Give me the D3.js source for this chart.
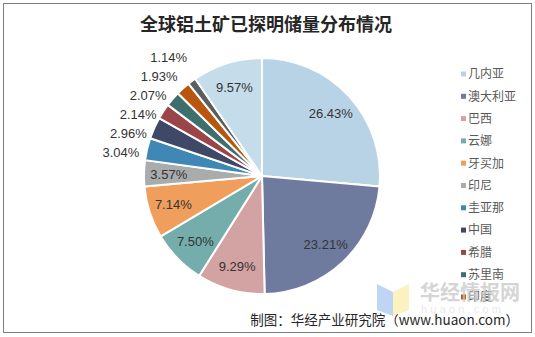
<!DOCTYPE html>
<html>
<head>
<meta charset="utf-8">
<script src="https://cdn.jsdelivr.net/npm/d3@7"></script>
<style>
body { margin: 0; background: #fff; }
svg { display: block; }
</style>
</head>
<body>
<svg id="chart" width="535" height="337"></svg>
<script>
// data
var names = ["几内亚", "澳大利亚", "巴西", "云娜", "牙买加", "印尼", "圭亚那", "中国", "希腊", "苏里南", "印度", "俄罗斯", "其他"];
var shares = [26.43, 23.21, 9.29, 7.50, 7.14, 3.57, 3.04, 2.96, 2.14, 2.07, 1.93, 1.14, 9.57];
var colors = ["#b9d3e6", "#6f7a9f", "#d3a2a2", "#74adab", "#f09e5b", "#a8acac", "#3f88b5",
              "#3f4866", "#9a4547", "#3e6f6f", "#b8560f", "#575f60", "#c5dcea"];
var outsideLimit = 3.1; // slices smaller than this get their label outside

var svg = d3.select("#chart");
var cx = 262, cy = 176, r = 118;

// frame
svg.append("rect")
    .attr("x", 3.5).attr("y", 3.5)
    .attr("width", 528).attr("height", 329)
    .attr("fill", "none").attr("stroke", "#7f7f7f").attr("stroke-width", 1);

// title
svg.append("text")
    .attr("x", 266).attr("y", 31)
    .attr("text-anchor", "middle")
    .style("font-family", "'Noto Sans CJK SC', sans-serif")
    .style("font-weight", "bold")
    .style("font-size", "18px")
    .attr("fill", "#262626")
    .text("全球铝土矿已探明储量分布情况");

var data = names.map(function(n, i) { return {name: n, value: shares[i], color: colors[i]}; });

var pie = d3.pie().sort(null).value(function(d) { return d.value; });
var arcs = pie(data);
var arc = d3.arc().innerRadius(0).outerRadius(r);

var g = svg.append("g").attr("transform", "translate(" + cx + "," + cy + ")");

g.selectAll(".slice")
    .data(arcs)
    .enter().append("path")
    .attr("class", "slice")
    .attr("d", arc)
    .attr("fill", function(d) { return d.data.color; })
    .attr("stroke", "#fff")
    .attr("stroke-width", 2)
    .attr("stroke-linejoin", "round");

// labels inside the big slices
var inner = d3.arc().innerRadius(r * 0.79).outerRadius(r * 0.79);
g.selectAll(".lab-in")
    .data(arcs.filter(function(d) { return d.data.value >= outsideLimit; }))
    .enter().append("text")
    .attr("class", "lab-in")
    .attr("transform", function(d) { return "translate(" + inner.centroid(d) + ")"; })
    .attr("text-anchor", "middle")
    .attr("dy", "0.36em")
    .style("font-family", "'Liberation Sans', Arial, sans-serif")
    .style("font-size", "13px")
    .attr("fill", "#333")
    .text(function(d) { return d.data.value.toFixed(2) + "%"; });

// labels outside the small slices, spread apart so they do not overlap
var outer = d3.arc().innerRadius(r + 8).outerRadius(r + 8);
var outs = arcs.filter(function(d) { return d.data.value < outsideLimit; })
    .map(function(d) { var c = outer.centroid(d); return {d: d, x: c[0], y: c[1]}; });
var gap = 19;
for (var k = 0; k < 200; k++) {
    for (var i = 1; i < outs.length; i++) {
        var need = outs[i].y - (outs[i - 1].y - gap);
        if (need > 0) {
            outs[i].y -= need / 2;
            outs[i - 1].y += need / 2;
        }
    }
}
g.selectAll(".lab-out")
    .data(outs)
    .enter().append("text")
    .attr("class", "lab-out")
    .attr("x", function(o) { return o.x; })
    .attr("y", function(o) { return o.y; })
    .attr("text-anchor", "end")
    .attr("dy", "0.36em")
    .style("font-family", "'Liberation Sans', Arial, sans-serif")
    .style("font-size", "13px")
    .attr("fill", "#333")
    .text(function(o) { return o.d.data.value.toFixed(2) + "%"; });

// legend: only the entries that fit in the plot area are shown
var ly = d3.scalePoint().domain(names).range([74, 74 + 22.3 * (names.length - 1)]);
var legend = svg.append("g");
var items = legend.selectAll(".leg")
    .data(data.filter(function(d) { return ly(d.name) < 306; }))
    .enter().append("g")
    .attr("class", "leg")
    .attr("transform", function(d) { return "translate(461," + ly(d.name) + ")"; });
items.append("rect")
    .attr("x", 0).attr("y", -2.5)
    .attr("width", 5).attr("height", 5)
    .attr("fill", function(d) { return d.color; });
items.append("text")
    .attr("x", 7).attr("dy", "0.36em")
    .style("font-family", "'Noto Sans CJK SC', sans-serif")
    .style("font-size", "12px")
    .attr("fill", "#595959")
    .text(function(d) { return d.name; });

// watermark
var wm = svg.append("g").attr("opacity", 0.75);
wm.append("path").attr("d", "M377,284 L393,292 L393,316 L377,310 Z").attr("fill", "#a9c8f2");
wm.append("path").attr("d", "M393,292 L409,284 L409,310 L393,316 Z").attr("fill", "#fbeeaa");
wm.append("text")
    .attr("x", 420).attr("y", 300)
    .style("font-family", "'Noto Sans CJK SC', sans-serif")
    .style("font-weight", "bold")
    .style("font-size", "20px")
    .attr("fill", "#c8c8c8")
    .text("华经情报网");
wm.append("text")
    .attr("x", 421).attr("y", 313)
    .style("font-family", "'Liberation Sans', Arial, sans-serif")
    .style("font-size", "11px")
    .style("letter-spacing", "3.2px")
    .attr("fill", "#e2e2e2")
    .text("huaon.com");

// source note
svg.append("text")
    .attr("x", 519).attr("y", 325)
    .attr("text-anchor", "end")
    .style("font-family", "'Noto Sans CJK SC', sans-serif")
    .style("font-size", "13.5px")
    .attr("fill", "#262626")
    .text("制图：华经产业研究院（www.huaon.com）");
</script>
</body>
</html>
